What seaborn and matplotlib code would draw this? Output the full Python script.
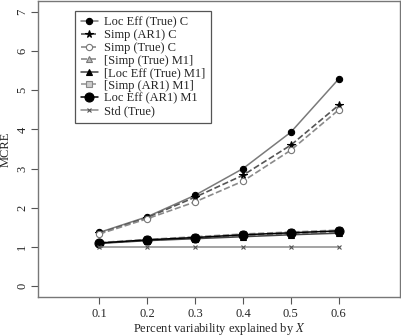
import numpy as np
import pandas as pd
import matplotlib
matplotlib.use('Agg')
import matplotlib.pyplot as plt
import seaborn as sns

# --- data ---
x_vals = [0.1, 0.2, 0.3, 0.4, 0.5, 0.6]
loc_eff_true_c = [1.37, 1.77, 2.32, 3.00, 3.93, 5.29]
simp_ar1_c = [1.35, 1.75, 2.27, 2.83, 3.60, 4.62]
simp_true_c = [1.33, 1.72, 2.15, 2.68, 3.47, 4.50]
simp_true_m1 = [1.10, 1.17, 1.23, 1.29, 1.34, 1.38]
loc_eff_true_m1 = [1.09, 1.16, 1.21, 1.26, 1.31, 1.35]
simp_ar1_m1 = [1.11, 1.19, 1.26, 1.33, 1.38, 1.43]
loc_eff_ar1_m1 = [1.10, 1.18, 1.24, 1.31, 1.36, 1.41]
std_true = [1.00, 1.00, 1.00, 1.00, 1.00, 1.00]

labels = ['Loc Eff (True) C', 'Simp (AR1) C', 'Simp (True) C', '[Simp (True) M1]',
          '[Loc Eff (True) M1]', '[Simp (AR1) M1]', 'Loc Eff (AR1) M1', 'Std (True)']
series = [loc_eff_true_c, simp_ar1_c, simp_true_c, simp_true_m1,
          loc_eff_true_m1, simp_ar1_m1, loc_eff_ar1_m1, std_true]

# style per series: (line colour, dash, marker, face, edge, size)
styles = [
    ('#7a7a7a', '-', 'o', 'black', 'black', 4.5),
    ('#555555', '--', '*', 'black', 'black', 5.5),
    ('#8a8a8a', '--', 'o', 'white', '#777777', 4.5),
    ('#8a8a8a', '--', '^', '#bbbbbb', '#777777', 4.5),
    ('#444444', '-', '^', 'black', 'black', 4.5),
    ('#999999', '--', 's', '#cccccc', '#888888', 4.5),
    ('black', '-', 'o', 'black', 'black', 6.5),
    ('#8a8a8a', '-', 'x', '#555555', '#555555', 3.5),
]

sns.set_style('white')
plt.rcParams['font.family'] = ['Liberation Serif', 'DejaVu Serif']
plt.rcParams['mathtext.fontset'] = 'stix'

fig = plt.figure(figsize=(4.01, 3.36), dpi=100)
ax = fig.add_axes([0.095, 0.116, 0.9025, 0.881])

df = pd.DataFrame({'x': x_vals})
for lab, vals, st in zip(labels, series, styles):
    col, ls, mk, fc, ec, ms = st
    df[lab] = vals
    sns.lineplot(data=df, x='x', y=lab, ax=ax, color=col, linestyle=ls,
                 linewidth=1.1 if ls == '-' else 1.2, marker=mk, markersize=ms,
                 markerfacecolor=fc, markeredgecolor=ec, markeredgewidth=0.8,
                 label=lab)

ax.set_xlim(-0.028, 0.728)
ax.set_ylim(-0.28, 7.28)
ax.set_xticks(x_vals)
ax.set_xticklabels(['0.1', '0.2', '0.3', '0.4', '0.5', '0.6'])
ax.set_yticks(range(8))
ax.set_yticklabels([str(i) for i in range(8)], rotation=90, va='center')
ax.tick_params(axis='both', direction='out', length=5, width=0.8, color='#555555',
               labelsize=9, left=True, bottom=True)
ax.tick_params(axis='y', pad=2)
ax.tick_params(axis='x', pad=3)
for sp in ax.spines.values():
    sp.set_color('#777777')
    sp.set_linewidth(1.0)

ax.set_xlabel('Percent variability explained by $X$', fontsize=9)
ax.set_ylabel('MCRE', fontsize=9)
ax.xaxis.set_label_coords(0.5, -0.082)
ax.yaxis.set_label_coords(-0.072, 0.5)

leg = ax.legend(loc='upper left', bbox_to_anchor=(0.102, 0.966), fontsize=9,
                frameon=True, fancybox=False, edgecolor='#555555', framealpha=1,
                handlelength=1.4, handletextpad=0.45, labelspacing=0.05,
                borderpad=0.45, borderaxespad=0)
leg.get_frame().set_linewidth(0.9)

fig.savefig('out.png', dpi=100)
